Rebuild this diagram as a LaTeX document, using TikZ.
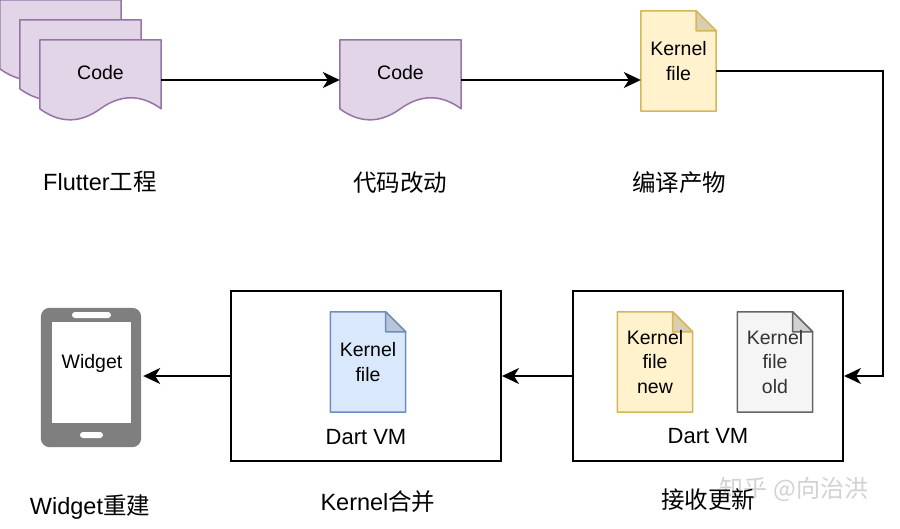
\documentclass[tikz,border=0pt]{standalone}
\usepackage{fontspec}
\setmainfont{Liberation Sans}
\newfontfamily\cjk{Noto Sans CJK SC}
\usetikzlibrary{arrows.meta,calc}
\definecolor{pfill}{HTML}{E1D5E7}
\definecolor{pline}{HTML}{9673A6}
\definecolor{yfill}{HTML}{FFF2CC}
\definecolor{yline}{HTML}{D6B656}
\definecolor{bfill}{HTML}{DAE8FC}
\definecolor{bline}{HTML}{6C8EBF}
\definecolor{gfill}{HTML}{F5F5F5}
\definecolor{gline}{HTML}{666666}
\definecolor{gtext}{HTML}{333333}
\definecolor{phonec}{HTML}{7F7F7F}
\definecolor{wmark}{HTML}{D2D2D2}
\pgfdeclarelayer{bg}
\pgfsetlayers{bg,main}
\newcommand\wavedoc[1]{%
  \path[fill=pfill, draw=pline, line width=1.5pt, line join=round]
    (#1.north west) -- (#1.north east) -- ([yshift=-69pt]#1.north east)
    .. controls ([xshift=-20.2pt,yshift=-54.3pt]#1.north east) and ([xshift=-40.3pt,yshift=-54.3pt]#1.north east)
    .. ([xshift=60.5pt,yshift=-69pt]#1.north west)
    .. controls ([xshift=40.3pt,yshift=-83.7pt]#1.north west) and ([xshift=20.2pt,yshift=-83.7pt]#1.north west)
    .. ([yshift=-69pt]#1.north west) -- cycle;}
\newcommand\notedoc[3]{%
  \path[fill=#2, draw=#3, line width=1.5pt, line join=round]
    (#1.north west) -- ([xshift=-20pt]#1.north east) -- ([yshift=-20pt]#1.north east)
    -- (#1.south east) -- (#1.south west) -- cycle;
  \path[fill=#2!85!black, draw=#3, line width=1.5pt, line join=round]
    ([xshift=-20pt]#1.north east) -- ([xshift=-20pt,yshift=-20pt]#1.north east)
    -- ([yshift=-20pt]#1.north east) -- cycle;}
\begin{document}
\begin{tikzpicture}[x=1pt,y=-1pt,
  docbox/.style={minimum width=121pt, minimum height=80pt, inner sep=0pt},
  dtext/.style={font=\fontsize{19.5}{25}\selectfont},
  kbox/.style={minimum width=75pt, minimum height=100pt, inner sep=0pt, align=center, font=\fontsize{19.5}{24.5}\selectfont},
  lbl/.style={font=\fontsize{23.5}{28}\selectfont, inner sep=0pt},
  vmbox/.style={draw, line width=2pt, minimum width=270pt, minimum height=170pt, inner sep=0pt},
  flow/.style={line width=1.6pt, -{Stealth[length=17pt,width=16pt,inset=5pt]}}]
\useasboundingbox (0,0) rectangle (900,528);
\begin{pgfonlayer}{bg}
  \fill[white] (0,0) rectangle (900,528);
\end{pgfonlayer}

% watermark
\node[font=\fontsize{24}{28}\selectfont\cjk, text=wmark] (wm) at (794,489) {知乎 @向治洪};

% stack of code docs
\node[docbox] (s1) at (60.5,40) {};
\node[docbox] (s2) at (80.5,60) {};
\node[docbox] (s3) at (100.5,80) {};
\node[dtext] (s3t) at (100.5,73) {Code};
\node[docbox] (c2) at (400.5,80) {};
\node[dtext] (c2t) at (400.5,73) {Code};
\begin{pgfonlayer}{bg}
  \wavedoc{s1}\wavedoc{s2}\wavedoc{s3}\wavedoc{c2}
\end{pgfonlayer}

% kernel file top
\node[kbox] (k1) at (678.5,61) {Kernel\\file};

% boxes
\node[vmbox] (rbox) at (708,376) {};
\node[vmbox] (mbox) at (366,376) {};
\node[kbox] (knew) at (655,362) {Kernel\\file\\new};
\node[kbox, text=gtext] (kold) at (775,362) {Kernel\\file\\old};
\node[kbox] (kmid) at (368,362) {Kernel\\file};
\node[dtext, font=\fontsize{22}{26}\selectfont] (rvm) at (708,436) {Dart VM};
\node[dtext, font=\fontsize{22}{26}\selectfont] (mvm) at (366,437) {Dart VM};
\begin{pgfonlayer}{bg}
  \notedoc{k1}{yfill}{yline}
  \notedoc{knew}{yfill}{yline}
  \notedoc{kold}{gfill}{gline}
  \notedoc{kmid}{bfill}{bline}
\end{pgfonlayer}

% phone
\node[minimum width=100pt, minimum height=139pt, inner sep=0pt] (phone) at (91,377.5) {};
\node[dtext] (pt) at (92,363) {Widget};
\begin{pgfonlayer}{bg}
  \fill[phonec, rounded corners=9pt] (phone.north west) rectangle (phone.south east);
  \fill[white] (52,322) rectangle (131,423);
  \fill[white, rounded corners=3pt] (72,312) rectangle (111,318);
  \fill[white, rounded corners=3pt] (80,432) rectangle (103,438);
\end{pgfonlayer}

% labels
\node[lbl] (l1) at (100,182) {Flutter{\cjk 工程}};
\node[lbl] (l2) at (400,183) {\cjk 代码改动};
\node[lbl] (l3) at (679,183) {\cjk 编译产物};
\node[lbl] (l4) at (90,507) {Widget{\cjk 重建}};
\node[lbl] (l5) at (378,502) {Kernel{\cjk 合并}};
\node[lbl] (l6) at (708,500) {\cjk 接收更新};

% connectors
\draw[flow] (s3.east) -- (c2.west);
\draw[flow] (c2.east) -- (c2.east -| k1.west);
\coordinate (turn) at (883,71);
\draw[flow] ([yshift=-10pt]k1.east) -- (turn) |- (rbox.east);
\draw[flow] (rbox.west) -- (mbox.east);
\draw[flow, shorten >=2pt] (mbox.west) -- (mbox.west -| phone.east);
\end{tikzpicture}
\end{document}
